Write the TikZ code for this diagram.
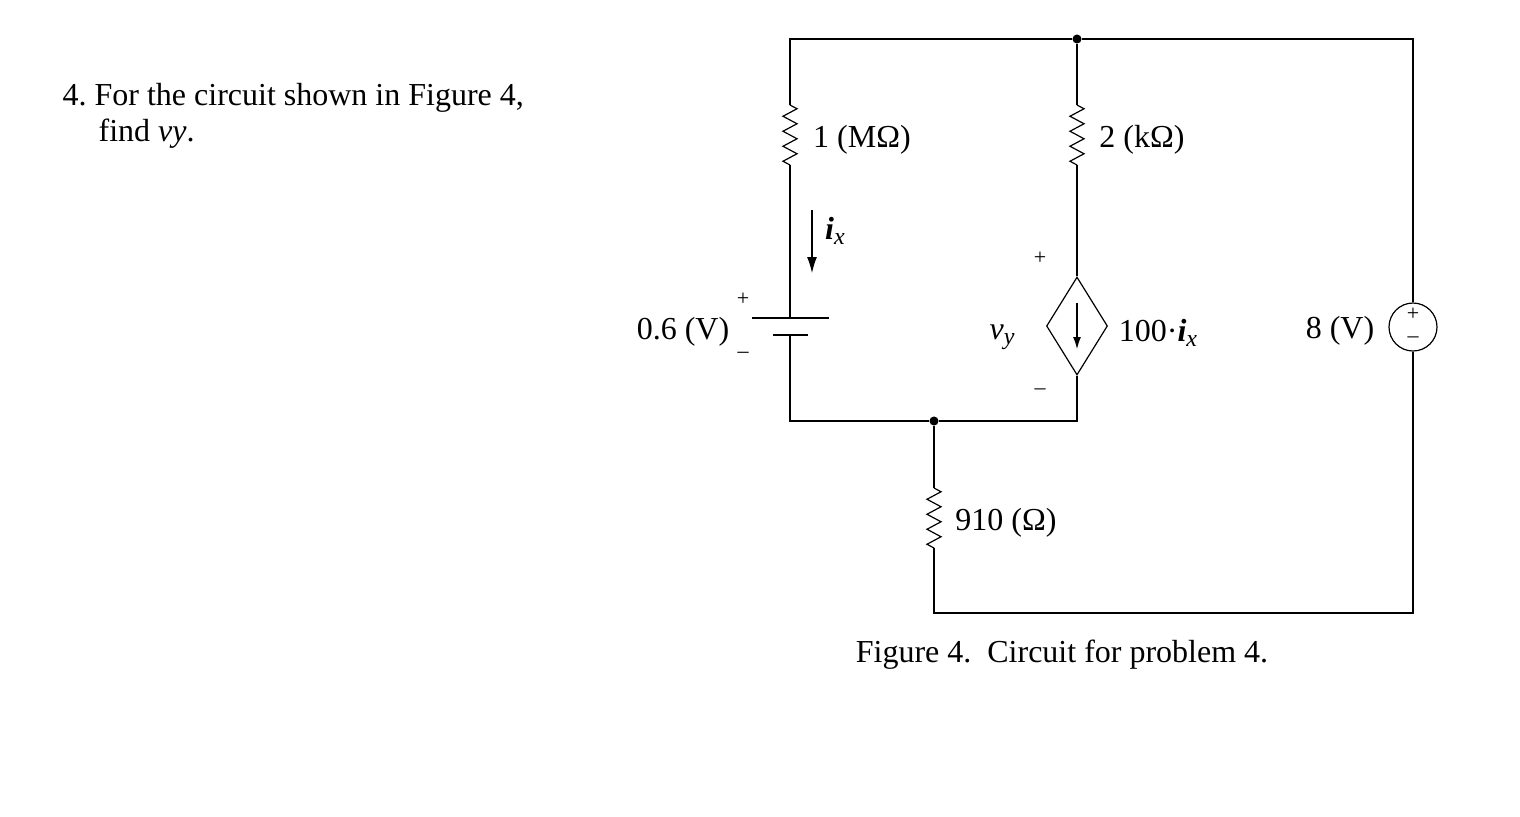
\documentclass[tikz,border=0pt]{standalone}
\usepackage{fontspec}
\setmainfont{Liberation Serif}
\usetikzlibrary{decorations.pathmorphing,arrows.meta,shapes.geometric}
\newcommand{\sbs}[1]{\raisebox{-0.35ex}{\fontsize{12}{12}\selectfont\textit{#1}}}
\begin{document}
\begin{tikzpicture}[x=0.5pt,y=-0.5pt,line width=0.6pt,
  res/.style={decorate,decoration={zigzag,segment length=7.5pt,amplitude=3.5pt}},
  lbl/.style={font=\fontsize{16}{20}\selectfont,inner sep=0pt},
  sm/.style={font=\fontsize{11}{12}\selectfont,inner sep=0pt},
  dot/.style={circle,fill,inner sep=1.6pt}]
\useasboundingbox (0,0) rectangle (1520,816);
\coordinate (tl) at (790,39);
\node[dot] (tm) at (1077,39) {};
\coordinate (tr) at (1413,39);
\coordinate (bl) at (790,421);
\node[dot] (bm) at (934,421) {};
\coordinate (bmr) at (1077,421);
\coordinate (bb) at (934,613);
\coordinate (br) at (1413,613);
\coordinate (r1a) at (790,105); \coordinate (r1b) at (790,165);
\coordinate (r2a) at (1077,105); \coordinate (r2b) at (1077,165);
\coordinate (r3a) at (934,488); \coordinate (r3b) at (934,548);
\coordinate (bat1) at (790,318); \coordinate (bat2) at (790,335);
\node[draw,diamond,minimum width=30.5pt,minimum height=49pt,inner sep=0pt] (cs) at (1077,326) {};
\node[draw,circle,minimum size=24pt,inner sep=0pt] (vs) at (1413,327) {};
\draw (r1a) -- (tl) -- (tm) -- (tr) -- (vs.north);
\draw (vs.south) -- (br) -- (bb) -- (r3b);
\draw (r3a) -- (bm);
\draw (r1b) -- (bat1);
\draw (bat2) -- (bl) -- (bm) -- (bmr) -- (cs.south);
\draw (tm) -- (r2a); \draw (r2b) -- (cs.north);
\draw[res] (r1a) -- (r1b);
\draw[res] (r2a) -- (r2b);
\draw[res] (r3a) -- (r3b);
\draw (752,318) -- (829,318);
\draw (773,335) -- (808,335);
\draw[-{Latex[length=6pt,width=4pt]}] (1077,303) -- (1077,349);
\coordinate (ia) at (812,210); \coordinate (ib) at (812,273);
\draw[-{Latex[length=8pt,width=5pt]}] (ia) -- (ib);
\node[sm] (vp) at (1413,314) {+};
\node[sm] (vm) at (1413,340) {--};
\node[lbl] (l1) at (862,140) {1 (MΩ)};
\node[lbl] (l2) at (1142,140) {2 (kΩ)};
\node[lbl] (l3) at (1006,523) {910 (Ω)};
\node[lbl] (l4) at (683,332) {0.6 (V)};
\node[lbl] (l5) at (1340,331) {8 (V)};
\node[lbl] (l6) at (1158,333) {100·\textit{\textbf{i}}\sbs{x}};
\node[lbl] (l7) at (835,231) {\textit{\textbf{i}}\sbs{x}};
\node[lbl] (l8) at (1002,337) {\textit{v}\sbs{y}};
\node[sm] at (743,299) {+};
\node[sm] at (743,352) {\_};
\node[sm] at (1040,258) {+};
\node[sm] at (1040,392) {--};
\node[lbl] at (1062,655) {Figure 4.\ \ Circuit for problem 4.};
\node[lbl,anchor=west] at (62,98) {4.\ For the circuit shown in Figure 4,};
\node[lbl,anchor=west] at (98,134) {find \textit{vy}.};
\end{tikzpicture}
\end{document}
